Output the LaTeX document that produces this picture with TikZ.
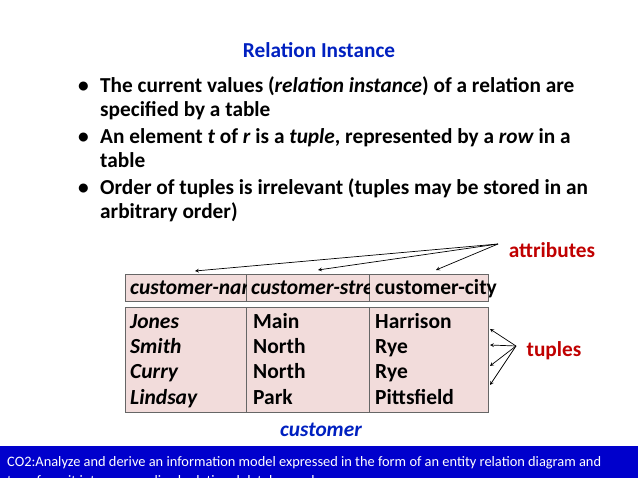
\documentclass[tikz,border=0pt]{standalone}
\usepackage{fontspec}
\setmainfont{Carlito}
\begin{document}
\begin{tikzpicture}[x=1pt,y=-1pt,
  bul/.style={anchor=base west,inner sep=0pt,font=\fontsize{21.3}{24}\selectfont\bfseries},
  td/.style={anchor=base west,inner sep=0pt,font=\fontsize{21.5}{24}\selectfont\bfseries},
  tdi/.style={td,font=\fontsize{21.5}{24}\selectfont\bfseries\itshape},
  arr/.style={->,>=stealth,line width=0.7pt}]
\definecolor{tblue}{RGB}{0,32,192}
\definecolor{band}{RGB}{0,0,204}
\definecolor{tred}{RGB}{192,0,0}
\definecolor{pk}{RGB}{242,220,219}
\useasboundingbox (0,0) rectangle (638,478);
\clip (0,0) rectangle (638,478);
\node[font=\fontsize{21.3}{24}\selectfont\bfseries,text=tblue] (title) at (319,50) {Relation Instance};
\foreach \y/\n in {93/b1,144/b2,195/b3}{\node[bul] (\n) at (78,\y) {\textbullet};}
\node[bul] (l1) at (100,93) {The current values (\textit{relation instance}) of a relation are};
\node[bul] (l2) at (100,117) {specified by a table};
\node[bul] (l3) at (100,144) {An element \textit{t} of \textit{r} is a \textit{tuple}, represented by a \textit{row} in a};
\node[bul] (l4) at (100,168) {table};
\node[bul] (l5) at (100,195) {Order of tuples is irrelevant (tuples may be stored in an};
\node[bul] (l6) at (100,219) {arbitrary order)};
% table
\foreach \a/\b in {125/246,246/369,369/488}{
  \draw[draw=black!60,fill=pk,line width=0.8pt] (\a,274) rectangle (\b,301);
  \draw[draw=black!60,fill=pk,line width=0.8pt] (\a,307) rectangle (\b,412);}
\begin{scope}\clip (125,274) rectangle (246,301);
\node[tdi] (h1) at (130,295) {customer-name};\end{scope}
\begin{scope}\clip (246,274) rectangle (369,301);
\node[tdi] (h2) at (251,295) {customer-street};\end{scope}
\begin{scope}\clip (369,274) rectangle (499,301);
\node[td] (h3) at (375,295) {customer-city};\end{scope}
\foreach \y/\a/\b/\c [count=\i] in {329/Jones/Main/Harrison,354/Smith/North/Rye,379/Curry/North/Rye,405/Lindsay/Park/Pittsfield}{
  \node[tdi] (n\i) at (130,\y) {\a};
  \node[td] (s\i) at (253,\y) {\b};
  \node[td] (c\i) at (375,\y) {\c};}
\node[font=\fontsize{21.3}{24}\selectfont\bfseries,text=tred] (attr) at (552,250) {attributes};
\node[font=\fontsize{21.3}{24}\selectfont\bfseries,text=tred] (tup) at (554,351) {tuples};
\coordinate (ao) at (498,244);
\coordinate (a1) at (195,271);\coordinate (a2) at (318,270);\coordinate (a3) at (436,270);
\foreach \t in {a1,a2,a3}{\draw[arr] (ao) -- (\t);}
\coordinate (to) at (516,346);
\coordinate (t1) at (490,329);\coordinate (t2) at (490,345);\coordinate (t3) at (490,366);\coordinate (t4) at (490,385);
\foreach \t in {t1,t2,t3,t4}{\draw[arr] (to) -- (\t);}
\node[font=\fontsize{21.3}{24}\selectfont\bfseries\itshape,text=tblue] (cust) at (321,430) {customer};
\fill[band] (0,446) rectangle (638,478);
\node[anchor=west,inner sep=0pt,text=white,font=\fontsize{14.4}{16}\selectfont] (f1) at (7,463) {CO2:Analyze and derive an information model expressed in the form of an entity relation diagram and};
\node[anchor=west,inner sep=0pt,text=white,font=\fontsize{14.4}{16}\selectfont] (f2) at (7,481) {transform it into a normalized relational database schema};
\end{tikzpicture}
\end{document}
